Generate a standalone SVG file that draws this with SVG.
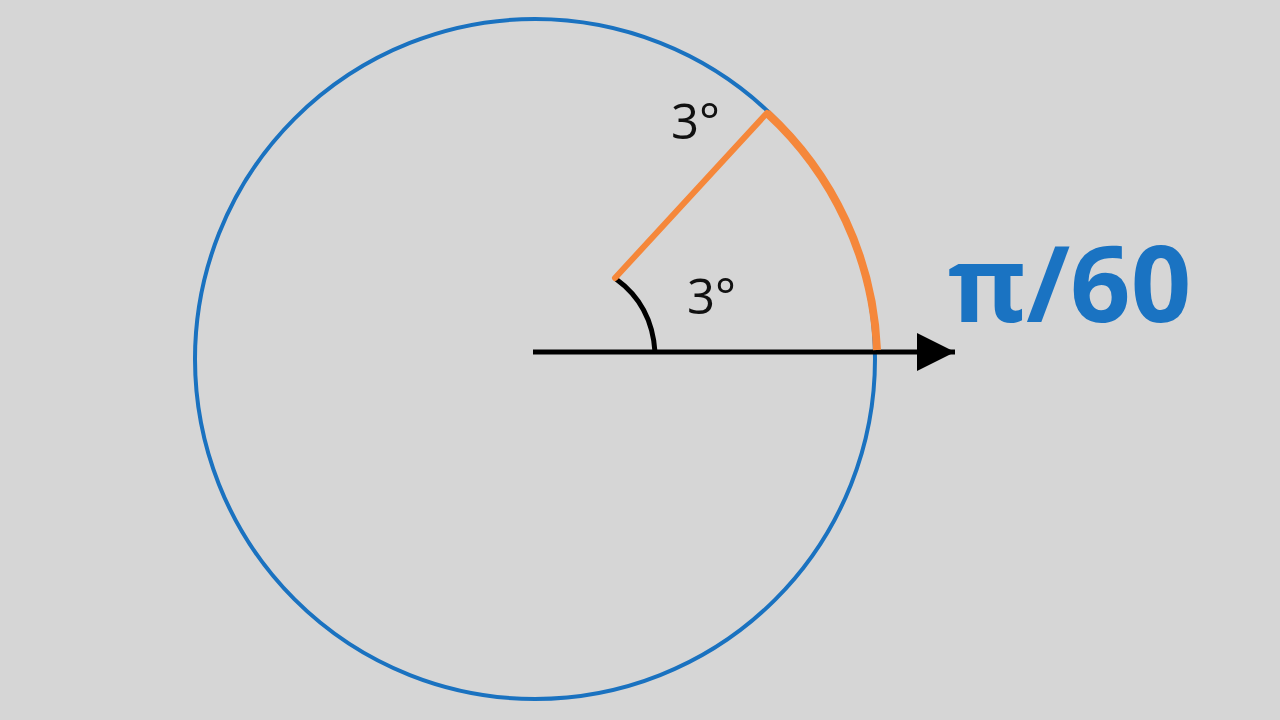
<svg xmlns="http://www.w3.org/2000/svg" width="1280" height="720" viewBox="0 0 1280 720">
<defs>
<style>
.lbl{font-family:"Open Sans","Liberation Sans",sans-serif;font-size:49px;fill:#111}
.big{font-family:"Open Sans","Liberation Sans",sans-serif;font-size:106px;font-weight:bold;fill:#1a73c2}
</style>
<marker id="ah" markerWidth="40" markerHeight="40" refX="38" refY="19" orient="auto" markerUnits="userSpaceOnUse">
<path d="M0,0 L38,19 L0,38 Z" fill="#000"/>
</marker>
</defs>
<rect width="1280" height="720" fill="#d6d6d6"/>
<g id="circle">
<circle cx="535" cy="359" r="340" fill="none" stroke="#1a72c0" stroke-width="4"/>
</g>
<g id="connectors">
<line x1="533" y1="352" x2="955" y2="352" stroke="#000" stroke-width="5" marker-end="url(#ah)"/>
<path d="M616,279 Q652,305 655,352" fill="none" stroke="#000" stroke-width="5"/>
<line x1="615" y1="278" x2="767" y2="113" stroke="#f5873a" stroke-width="6" stroke-linecap="round"/>
<path d="M767,113 A340,340 0 0 1 877,350" fill="none" stroke="#f5873a" stroke-width="8"/>
</g>
<g id="labels">
<text class="lbl" x="671" y="139">3°</text>
<text class="lbl" x="687" y="314">3°</text>
<text class="big" x="948" y="322">π/60</text>
</g>
</svg>
